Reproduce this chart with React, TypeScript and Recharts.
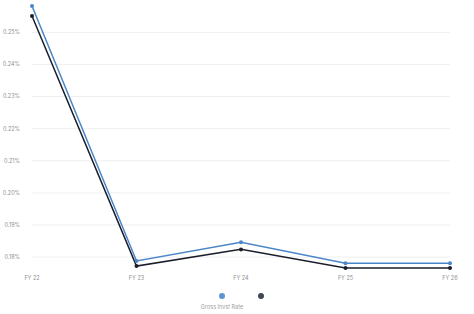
import React from 'react';
import { LineChart, Line, XAxis, YAxis, CartesianGrid } from 'recharts';

const years = ['FY 22', 'FY 23', 'FY 24', 'FY 25', 'FY 26'];
const grossRate = [0.2582, 0.1788, 0.1846, 0.1781, 0.1781];
const otherRate = [0.2551, 0.1772, 0.1824, 0.1766, 0.1766];
const yTicks = [0.18, 0.19, 0.2, 0.21, 0.22, 0.23, 0.24, 0.25];

const BLUE = '#4a86c8';
const DARK = '#1b1e2b';

const data = years.map((year, i) => ({ year, gross: grossRate[i], other: otherRate[i] }));

const tickStyle = { fontSize: 5.5, fill: '#8f8f8f', fontFamily: 'Inter, sans-serif' };

export default function App() {
    return (
        <div style={{ position: 'absolute', left: 0, top: 0, width: 474, height: 314, background: '#fff', fontFamily: 'Inter, sans-serif' }}>
            <LineChart width={474} height={288} data={data} margin={{ top: 6, right: 24, bottom: 0, left: 0 }}>
                <CartesianGrid vertical={false} stroke="#efefef" horizontalValues={yTicks} />
                <XAxis
                    dataKey="year"
                    axisLine={false}
                    tickLine={false}
                    tickSize={6}
                    tickMargin={2}
                    height={20}
                    interval={0}
                    tick={tickStyle}
                />
                <YAxis
                    domain={['dataMin', 'dataMax']}
                    ticks={yTicks}
                    axisLine={false}
                    tickLine={false}
                    width={32}
                    tickSize={6}
                    tickMargin={6}
                    tick={tickStyle}
                    tickFormatter={(v: number) => v.toFixed(2) + '%'}
                />
                <Line
                    dataKey="gross"
                    stroke={BLUE}
                    strokeWidth={1.5}
                    dot={{ r: 2, fill: BLUE, stroke: BLUE, strokeWidth: 0 }}
                    isAnimationActive={false}
                />
                <Line
                    dataKey="other"
                    stroke={DARK}
                    strokeWidth={1.5}
                    dot={{ r: 2, fill: DARK, stroke: DARK, strokeWidth: 0 }}
                    isAnimationActive={false}
                />
            </LineChart>
            <div style={{ position: 'absolute', left: 0, top: 290, width: 474, height: 24 }}>
                <div style={{ position: 'absolute', left: 182, top: 0, width: 80, textAlign: 'center' }}>
                    <div style={{ width: 6, height: 6, borderRadius: 3, background: '#5b93d3', margin: '3px auto 0' }} />
                    <div style={{ fontSize: 5.5, color: '#a0a0a0', marginTop: 5 }}>Gross Invst Rate</div>
                </div>
                <div style={{ position: 'absolute', left: 258, top: 3, width: 6, height: 6, borderRadius: 3, background: '#3e4859' }} />
            </div>
        </div>
    );
}
